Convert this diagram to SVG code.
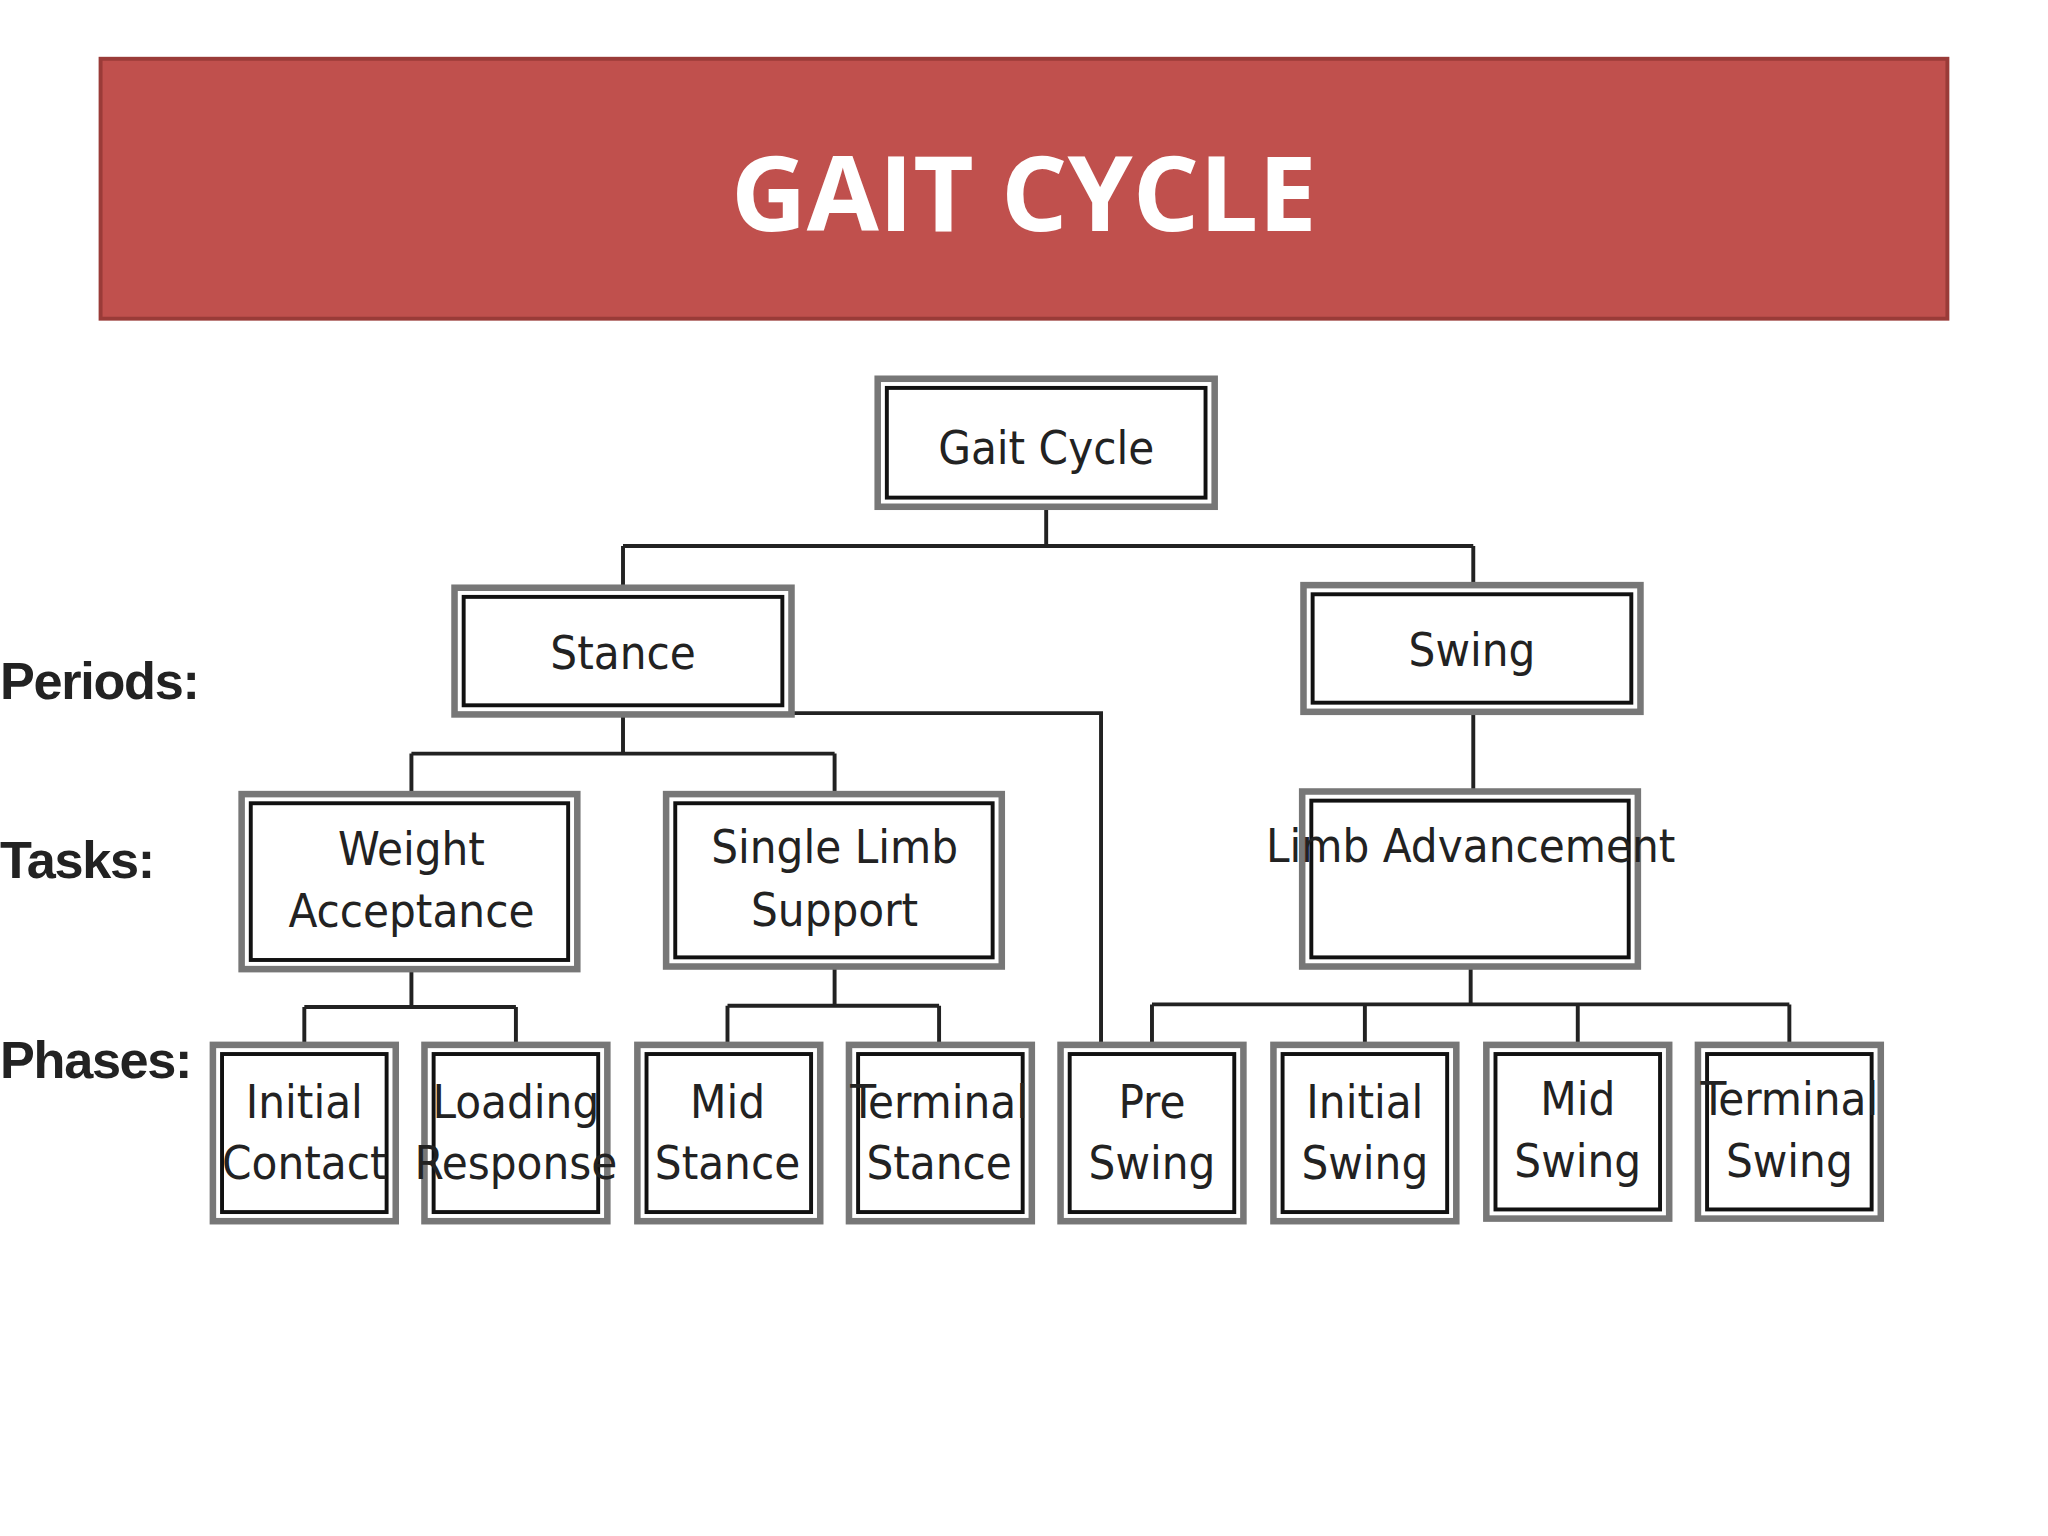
<svg xmlns="http://www.w3.org/2000/svg" width="2048" height="1536" viewBox="0 0 2048 1536">
<style>
.o{fill:#fff;stroke:#777;stroke-width:5}
.i{fill:none;stroke:#111;stroke-width:3}
.t{font-family:"Liberation Sans Narrow","DejaVu Sans Condensed","Liberation Sans",sans-serif;font-size:36px;fill:#222;text-anchor:middle}
.l{font-family:"Liberation Sans","DejaVu Sans",sans-serif;font-weight:bold;font-size:40px;fill:#222;letter-spacing:-1px}
.c{fill:none;stroke:#222;stroke-width:3}
</style>
<rect width="2048" height="1536" fill="#fff"/>
<g transform="scale(1.3061)">
<g id="title"><rect x="77" y="45" width="1414" height="199" fill="#c0504d" stroke="#9a3b38" stroke-width="3"/>
<text x="784" y="177" font-family="'Open Sans','Liberation Sans',sans-serif" font-weight="bold" font-size="80" fill="#fff" text-anchor="middle">GAIT CYCLE</text></g>
<g id="labels"><text class="l" x="0" y="535">Periods:</text><text class="l" x="0" y="672">Tasks:</text><text class="l" x="0" y="825">Phases:</text></g>
<g id="connectors">
<path class="c" d="M801 388V418M477 418H1128M477 418V450M1128 418V448"/>
<path class="c" d="M477 547V577M315 577H639M315 577V608M639 577V608"/>
<path class="c" d="M606 546H843V800M1128 545V606"/>
<path class="c" d="M315 742V771M233 771H395M233 771V800M395 771V800"/>
<path class="c" d="M639 740V770M557 770H719M557 770V800M719 770V800"/>
<path class="c" d="M1126 740V769M882 769H1370M882 769V800M1045 769V800M1208 769V800M1370 769V800"/>
</g>
<g id="gait"><rect class="o" x="672" y="290" width="258" height="98"/><rect class="i" x="679" y="297" width="244" height="84"/><text class="t" x="801" y="355" font-size="42">Gait Cycle</text></g>
<g id="stance"><rect class="o" x="348" y="450" width="258" height="97"/><rect class="i" x="355" y="457" width="244" height="83"/><text class="t" x="477" y="512" font-size="42">Stance</text></g>
<g id="swing"><rect class="o" x="998" y="448" width="258" height="97"/><rect class="i" x="1005" y="455" width="244" height="83"/><text class="t" x="1127" y="510" font-size="42">Swing</text></g>
<g id="wa"><rect class="o" x="185" y="608" width="257" height="134"/><rect class="i" x="192" y="615" width="243" height="120"/><text class="t" x="315" y="662">Weight</text><text class="t" x="315" y="710">Acceptance</text></g>
<g id="sls"><rect class="o" x="510" y="608" width="257" height="132"/><rect class="i" x="517" y="615" width="243" height="118"/><text class="t" x="639" y="661">Single Limb</text><text class="t" x="639" y="709">Support</text></g>
<g id="la"><rect class="o" x="997" y="606" width="257" height="134"/><rect class="i" x="1004" y="613" width="243" height="120"/><text class="t" x="1126" y="660">Limb Advancement</text></g>
<g id="ic"><rect class="o" x="163" y="800" width="140" height="135"/><rect class="i" x="170" y="807" width="126" height="121"/><text class="t" x="233" y="856">Initial</text><text class="t" x="233" y="903">Contact</text></g>
<g id="lr"><rect class="o" x="325" y="800" width="140" height="135"/><rect class="i" x="332" y="807" width="126" height="121"/><text class="t" x="395" y="856">Loading</text><text class="t" x="395" y="903">Response</text></g>
<g id="ms"><rect class="o" x="488" y="800" width="140" height="135"/><rect class="i" x="495" y="807" width="126" height="121"/><text class="t" x="557" y="856">Mid</text><text class="t" x="557" y="903">Stance</text></g>
<g id="ts"><rect class="o" x="650" y="800" width="140" height="135"/><rect class="i" x="657" y="807" width="126" height="121"/><text class="t" x="719" y="856">Terminal</text><text class="t" x="719" y="903">Stance</text></g>
<g id="ps"><rect class="o" x="812" y="800" width="140" height="135"/><rect class="i" x="819" y="807" width="126" height="121"/><text class="t" x="882" y="856">Pre</text><text class="t" x="882" y="903">Swing</text></g>
<g id="is"><rect class="o" x="975" y="800" width="140" height="135"/><rect class="i" x="982" y="807" width="126" height="121"/><text class="t" x="1045" y="856">Initial</text><text class="t" x="1045" y="903">Swing</text></g>
<g id="mw"><rect class="o" x="1138" y="800" width="140" height="133"/><rect class="i" x="1145" y="807" width="126" height="119"/><text class="t" x="1208" y="854">Mid</text><text class="t" x="1208" y="901">Swing</text></g>
<g id="tw"><rect class="o" x="1300" y="800" width="140" height="133"/><rect class="i" x="1307" y="807" width="126" height="119"/><text class="t" x="1370" y="854">Terminal</text><text class="t" x="1370" y="901">Swing</text></g>
</g>
</svg>
